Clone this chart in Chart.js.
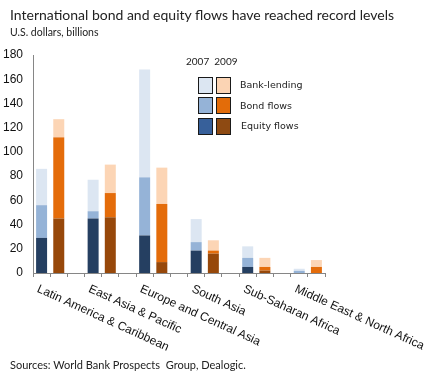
<!DOCTYPE html>
<html>
<head>
<meta charset="utf-8">
<script src="https://cdn.jsdelivr.net/npm/chart.js@4"></script>
<style>
  html, body { margin: 0; padding: 0; background: #fff; }
  #wrap { position: relative; width: 440px; height: 381px; overflow: hidden; }
  #wrap canvas { position: absolute; left: 0; top: 0; }
  .txt { position: absolute; white-space: nowrap; color: #1a1a1a; }
  #title { left: 10px; top: 6px; font: 14px Lato, sans-serif; color: #222; }
  #sub { left: 10px; top: 26px; font: 10.5px Lato, sans-serif; color: #222; }
  #src { left: 10px; top: 358px; font: 11px Lato, sans-serif; color: #222; }
  #years { left: 186px; top: 55px; font: 10px Lato, sans-serif; color: #222; }
  .box { position: absolute; width: 13px; height: 15px; border: 1px solid #1a1a1a; box-sizing: content-box; }
  .lt { position: absolute; font: 9.5px "DejaVu Sans", sans-serif; color: #222; white-space: nowrap; }
</style>
</head>
<body>
<div id="wrap">
  <canvas id="c" width="440" height="381"></canvas>
  <div class="txt" id="title">International bond and equity flows have reached record levels</div>
  <div class="txt" id="sub">U.S. dollars, billions</div>
  <div class="txt" id="src">Sources: World Bank Prospects&nbsp; Group, Dealogic.</div>
  <div class="txt" id="years">2007&nbsp; 2009</div>
  <div class="box" style="left:198px;top:77px;background:#DCE6F2"></div>
  <div class="box" style="left:216px;top:77px;background:#FBD4B4"></div>
  <div class="box" style="left:198px;top:97px;background:#95B3D7"></div>
  <div class="box" style="left:216px;top:97px;background:#E36C09"></div>
  <div class="box" style="left:198px;top:118px;background:#37609A"></div>
  <div class="box" style="left:216px;top:118px;background:#8E4A12"></div>
  <div class="lt" style="left:240px;top:79px">Bank-lending</div>
  <div class="lt" style="left:240px;top:100px">Bond flows</div>
  <div class="lt" style="left:241px;top:120px">Equity flows</div>
</div>
<script>
// ---- data (US$ billions) ----
const regions = ["Latin America & Caribbean", "East Asia & Pacific", "Europe and Central Asia",
                 "South Asia", "Sub-Saharan Africa", "Middle East & North Africa"];
const years = ["2007", "2009"];
const equity2007 = [29, 45, 31, 18.5, 5, 0];
const bond2007   = [27, 6, 48, 7, 7.5, 1.8];
const bank2007   = [30, 26, 89, 19, 9.5, 1.7];
const equity2009 = [45, 46, 9, 16, 2, 0];
const bond2009   = [67, 20, 48, 2.5, 3, 5];
const bank2009   = [15, 23.5, 30, 8.5, 7.5, 5.7];
const yTicks = [0, 20, 40, 60, 80, 100, 120, 140, 160, 180];

// categories: 2007, 2009, spacer per region (no spacer after last)
const labels = [];
regions.forEach((r, i) => {
  labels.push(r + " " + years[0]);
  labels.push(r + " " + years[1]);
  if (i < regions.length - 1) labels.push("");
});
function place(values, offset) {
  const arr = new Array(labels.length).fill(null);
  values.forEach((v, i) => { arr[i * 3 + offset] = v; });
  return arr;
}

const groupLabels = {
  id: "groupLabels",
  afterDraw(chart) {
    const x = chart.scales.x;
    const ctx = chart.ctx;
    ctx.save();
    ctx.font = "12px 'Liberation Sans', Arial, sans-serif";
    ctx.fillStyle = "#111";
    ctx.textAlign = "left";
    ctx.textBaseline = "top";
    regions.forEach((r, i) => {
      const cx = (x.getPixelForValue(i * 3) + x.getPixelForValue(i * 3 + 1)) / 2;
      ctx.save();
      ctx.translate(cx - 10, 283);
      ctx.rotate(24.5 * Math.PI / 180);
      ctx.fillText(r, 0, 0);
      ctx.restore();
    });
    ctx.restore();
  }
};

const common = { categoryPercentage: 1.0, barPercentage: 0.64, borderWidth: 0 };
new Chart(document.getElementById("c"), {
  type: "bar",
  data: {
    labels: labels,
    datasets: [
      Object.assign({ label: "Equity flows 2007", data: place(equity2007, 0), backgroundColor: "#253F61" }, common),
      Object.assign({ label: "Bond flows 2007", data: place(bond2007, 0), backgroundColor: "#95B3D7" }, common),
      Object.assign({ label: "Bank-lending 2007", data: place(bank2007, 0), backgroundColor: "#DCE6F2" }, common),
      Object.assign({ label: "Equity flows 2009", data: place(equity2009, 1), backgroundColor: "#97480A" }, common),
      Object.assign({ label: "Bond flows 2009", data: place(bond2009, 1), backgroundColor: "#E46C0A" }, common),
      Object.assign({ label: "Bank-lending 2009", data: place(bank2009, 1), backgroundColor: "#FCD5B5" }, common)
    ]
  },
  options: {
    responsive: false,
    animation: false,
    devicePixelRatio: 1,
    layout: { padding: { top: 55, right: 115, left: 0, bottom: 0 } },
    plugins: { legend: { display: false }, tooltip: { enabled: false }, title: { display: false } },
    scales: {
      x: {
        stacked: true,
        ticks: { display: false },
        grid: { display: true, offset: true, drawOnChartArea: false, drawTicks: true, tickLength: 4, color: "#868686" },
        border: { display: true, color: "#868686", width: 1 },
        afterFit(s) { s.height = 108; }
      },
      y: {
        stacked: true,
        min: 0, max: 180,
        afterBuildTicks(s) { s.ticks = yTicks.map(v => ({ value: v })); },
        ticks: { padding: 10, color: "#111", font: { family: "'Liberation Sans', Arial, sans-serif", size: 12 } },
        grid: { display: false, drawTicks: false },
        border: { display: true, color: "#868686", width: 1 },
        afterFit(s) { s.width = 33; }
      }
    }
  },
  plugins: [groupLabels]
});
</script>
</body>
</html>
